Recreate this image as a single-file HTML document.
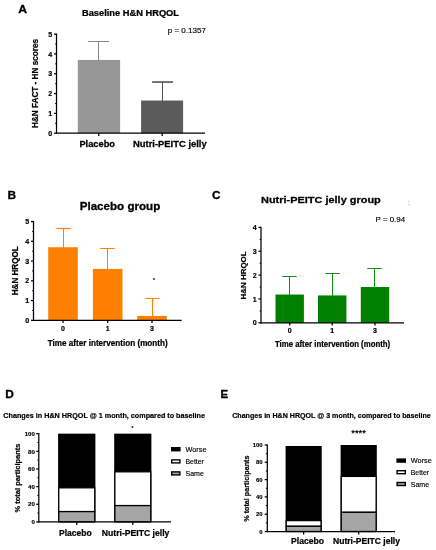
<!DOCTYPE html>
<html lang="en"><head><meta charset="utf-8"><title>H&amp;N HRQOL figure</title>
<style>
html,body{margin:0;padding:0;background:#fff;}
body{width:436px;height:550px;overflow:hidden;}
svg{display:block;font-family:"Liberation Sans",sans-serif;}
</style></head><body>
<svg width="436" height="550" viewBox="0 0 436 550">
<rect x="0" y="0" width="436" height="550" fill="#fff"/>

<g id="panelA">
<text x="18.25" y="12.9" font-size="11.6" font-weight="bold" text-anchor="start" fill="#000" stroke="#000" stroke-width="0.31" textLength="8.8" lengthAdjust="spacingAndGlyphs">A</text>
<text x="82" y="15.6" font-size="8.5" font-weight="bold" text-anchor="start" fill="#000" stroke="#000" stroke-width="0.23" textLength="97" lengthAdjust="spacingAndGlyphs">Baseline H&amp;N HRQOL</text>
<text x="167.7" y="32.8" font-size="8.0" font-weight="normal" text-anchor="start" fill="#000" stroke="#000" stroke-width="0.15" textLength="38.3" lengthAdjust="spacingAndGlyphs">p = 0.1357</text>
<rect x="77.80" y="59.94" width="42.30" height="73.26" fill="#979797"/>
<line x1="98.5" y1="41.5" x2="98.5" y2="60.93999999999998" stroke="#888888" stroke-width="1.0"/>
<line x1="88.0" y1="41.5" x2="109.0" y2="41.5" stroke="#888888" stroke-width="1.0"/>
<rect x="141.10" y="100.53" width="42.00" height="32.67" fill="#5b5b5b"/>
<line x1="162.5" y1="82.05" x2="162.5" y2="101.52999999999999" stroke="#525252" stroke-width="1.0"/>
<line x1="152.1" y1="82.05" x2="172.9" y2="82.05" stroke="#525252" stroke-width="1.6"/>
<line x1="56.5" y1="33.57499999999999" x2="56.5" y2="133.825" stroke="#000" stroke-width="1.25"/>
<line x1="54.0" y1="133.2" x2="56.5" y2="133.2" stroke="#000" stroke-width="1.25"/>
<text x="52.3" y="135.76" font-size="7.1" font-weight="bold" text-anchor="end" fill="#000" stroke="#000" stroke-width="0.19">0</text>
<line x1="54.0" y1="113.39999999999999" x2="56.5" y2="113.39999999999999" stroke="#000" stroke-width="1.25"/>
<text x="52.3" y="115.96" font-size="7.1" font-weight="bold" text-anchor="end" fill="#000" stroke="#000" stroke-width="0.19">1</text>
<line x1="54.0" y1="93.6" x2="56.5" y2="93.6" stroke="#000" stroke-width="1.25"/>
<text x="52.3" y="96.16" font-size="7.1" font-weight="bold" text-anchor="end" fill="#000" stroke="#000" stroke-width="0.19">2</text>
<line x1="54.0" y1="73.79999999999998" x2="56.5" y2="73.79999999999998" stroke="#000" stroke-width="1.25"/>
<text x="52.3" y="76.36" font-size="7.1" font-weight="bold" text-anchor="end" fill="#000" stroke="#000" stroke-width="0.19">3</text>
<line x1="54.0" y1="53.999999999999986" x2="56.5" y2="53.999999999999986" stroke="#000" stroke-width="1.25"/>
<text x="52.3" y="56.56" font-size="7.1" font-weight="bold" text-anchor="end" fill="#000" stroke="#000" stroke-width="0.19">4</text>
<line x1="54.0" y1="34.19999999999999" x2="56.5" y2="34.19999999999999" stroke="#000" stroke-width="1.25"/>
<text x="52.3" y="36.76" font-size="7.1" font-weight="bold" text-anchor="end" fill="#000" stroke="#000" stroke-width="0.19">5</text>
<line x1="55.125" y1="123.29999999999998" x2="56.5" y2="123.29999999999998" stroke="#000" stroke-width="1.0"/>
<line x1="55.125" y1="103.49999999999999" x2="56.5" y2="103.49999999999999" stroke="#000" stroke-width="1.0"/>
<line x1="55.125" y1="83.69999999999999" x2="56.5" y2="83.69999999999999" stroke="#000" stroke-width="1.0"/>
<line x1="55.125" y1="63.89999999999999" x2="56.5" y2="63.89999999999999" stroke="#000" stroke-width="1.0"/>
<line x1="55.125" y1="44.09999999999998" x2="56.5" y2="44.09999999999998" stroke="#000" stroke-width="1.0"/>
<line x1="56" y1="133.2" x2="205" y2="133.2" stroke="#000" stroke-width="1.25"/>
<line x1="98.8" y1="133.2" x2="98.8" y2="136.0" stroke="#000" stroke-width="1.25"/>
<line x1="162.2" y1="133.2" x2="162.2" y2="136.0" stroke="#000" stroke-width="1.25"/>
<text x="37.6" y="83.5" font-size="8.2" font-weight="bold" text-anchor="middle" fill="#000" stroke="#000" stroke-width="0.22" textLength="89" lengthAdjust="spacingAndGlyphs" transform="rotate(-90 37.6 83.5)">H&amp;N FACT - HN scores</text>
<text x="79.4" y="146.5" font-size="9.5" font-weight="bold" text-anchor="start" fill="#000" stroke="#000" stroke-width="0.26" textLength="35.6" lengthAdjust="spacingAndGlyphs">Placebo</text>
<text x="133" y="146.5" font-size="9.5" font-weight="bold" text-anchor="start" fill="#000" stroke="#000" stroke-width="0.26" textLength="73.7" lengthAdjust="spacingAndGlyphs">Nutri-PEITC jelly</text>
</g>
<g id="panelB">
<text x="7.4" y="198.5" font-size="11.6" font-weight="bold" text-anchor="start" fill="#000" stroke="#000" stroke-width="0.31" textLength="8.6" lengthAdjust="spacingAndGlyphs">B</text>
<text x="79.7" y="209.8" font-size="10.8" font-weight="bold" text-anchor="start" fill="#000" stroke="#000" stroke-width="0.29" textLength="80.6" lengthAdjust="spacingAndGlyphs">Placebo group</text>
<rect x="48.20" y="247.23" width="29.60" height="73.08" fill="#ff8000"/>
<line x1="63.5" y1="228.5" x2="63.5" y2="248.22500000000002" stroke="#ff8000" stroke-width="1.0"/>
<line x1="56.2" y1="228.5" x2="70.8" y2="228.5" stroke="#ff8000" stroke-width="1.0"/>
<rect x="92.90" y="268.95" width="29.60" height="51.35" fill="#ff8000"/>
<line x1="107.5" y1="248.5" x2="107.5" y2="269.95" stroke="#ff8000" stroke-width="1.0"/>
<line x1="100.2" y1="248.5" x2="114.8" y2="248.5" stroke="#ff8000" stroke-width="1.0"/>
<rect x="137.20" y="315.95" width="29.60" height="4.34" fill="#ff8000"/>
<line x1="152.5" y1="298.5" x2="152.5" y2="316.955" stroke="#ff8000" stroke-width="1.0"/>
<line x1="145.2" y1="298.5" x2="159.8" y2="298.5" stroke="#ff8000" stroke-width="1.0"/>
<line x1="33.5" y1="220.925" x2="33.5" y2="320.925" stroke="#000" stroke-width="1.25"/>
<line x1="31.0" y1="320.3" x2="33.5" y2="320.3" stroke="#000" stroke-width="1.25"/>
<text x="29.3" y="322.86" font-size="7.1" font-weight="bold" text-anchor="end" fill="#000" stroke="#000" stroke-width="0.19">0</text>
<line x1="31.0" y1="300.55" x2="33.5" y2="300.55" stroke="#000" stroke-width="1.25"/>
<text x="29.3" y="303.11" font-size="7.1" font-weight="bold" text-anchor="end" fill="#000" stroke="#000" stroke-width="0.19">1</text>
<line x1="31.0" y1="280.8" x2="33.5" y2="280.8" stroke="#000" stroke-width="1.25"/>
<text x="29.3" y="283.36" font-size="7.1" font-weight="bold" text-anchor="end" fill="#000" stroke="#000" stroke-width="0.19">2</text>
<line x1="31.0" y1="261.05" x2="33.5" y2="261.05" stroke="#000" stroke-width="1.25"/>
<text x="29.3" y="263.61" font-size="7.1" font-weight="bold" text-anchor="end" fill="#000" stroke="#000" stroke-width="0.19">3</text>
<line x1="31.0" y1="241.3" x2="33.5" y2="241.3" stroke="#000" stroke-width="1.25"/>
<text x="29.3" y="243.86" font-size="7.1" font-weight="bold" text-anchor="end" fill="#000" stroke="#000" stroke-width="0.19">4</text>
<line x1="31.0" y1="221.55" x2="33.5" y2="221.55" stroke="#000" stroke-width="1.25"/>
<text x="29.3" y="224.11" font-size="7.1" font-weight="bold" text-anchor="end" fill="#000" stroke="#000" stroke-width="0.19">5</text>
<line x1="32.125" y1="310.425" x2="33.5" y2="310.425" stroke="#000" stroke-width="1.0"/>
<line x1="32.125" y1="290.675" x2="33.5" y2="290.675" stroke="#000" stroke-width="1.0"/>
<line x1="32.125" y1="270.925" x2="33.5" y2="270.925" stroke="#000" stroke-width="1.0"/>
<line x1="32.125" y1="251.175" x2="33.5" y2="251.175" stroke="#000" stroke-width="1.0"/>
<line x1="32.125" y1="231.425" x2="33.5" y2="231.425" stroke="#000" stroke-width="1.0"/>
<line x1="33" y1="320.3" x2="181.7" y2="320.3" stroke="#000" stroke-width="1.25"/>
<line x1="63.0" y1="320.3" x2="63.0" y2="322.90000000000003" stroke="#000" stroke-width="1.25"/>
<text x="63.0" y="331.0" font-size="7" font-weight="bold" text-anchor="middle" fill="#000" stroke="#000" stroke-width="0.19">0</text>
<line x1="107.7" y1="320.3" x2="107.7" y2="322.90000000000003" stroke="#000" stroke-width="1.25"/>
<text x="107.7" y="331.0" font-size="7" font-weight="bold" text-anchor="middle" fill="#000" stroke="#000" stroke-width="0.19">1</text>
<line x1="152.0" y1="320.3" x2="152.0" y2="322.90000000000003" stroke="#000" stroke-width="1.25"/>
<text x="152.0" y="331.0" font-size="7" font-weight="bold" text-anchor="middle" fill="#000" stroke="#000" stroke-width="0.19">3</text>
<text x="47.7" y="345.5" font-size="8.5" font-weight="bold" text-anchor="start" fill="#000" stroke="#000" stroke-width="0.23" textLength="120" lengthAdjust="spacingAndGlyphs">Time after intervention (month)</text>
<text x="18.1" y="270.8" font-size="8.2" font-weight="bold" text-anchor="middle" fill="#000" stroke="#000" stroke-width="0.22" textLength="49" lengthAdjust="spacingAndGlyphs" transform="rotate(-90 18.1 270.8)">H&amp;N HRQOL</text>
<text x="154" y="281.6" font-size="6.2" font-weight="bold" text-anchor="middle" fill="#000">*</text>
</g>
<g id="panelC">
<text x="212.1" y="198.5" font-size="11.7" font-weight="bold" text-anchor="start" fill="#000" stroke="#000" stroke-width="0.32">C</text>
<text x="261.0" y="203.2" font-size="9.8" font-weight="bold" text-anchor="start" fill="#000" stroke="#000" stroke-width="0.26" textLength="119.8" lengthAdjust="spacingAndGlyphs">Nutri-PEITC jelly group</text>
<text x="375.6" y="222.2" font-size="7.6" font-weight="normal" text-anchor="start" fill="#000" stroke="#000" stroke-width="0.15" textLength="29.5" lengthAdjust="spacingAndGlyphs">P = 0.94</text>
<circle cx="408.8" cy="201.2" r="0.7" fill="#c4c4c4"/><circle cx="408.8" cy="204.2" r="0.7" fill="#c4c4c4"/>
<rect x="275.50" y="294.54" width="28.40" height="28.26" fill="#008000"/>
<line x1="289.5" y1="276.5" x2="289.5" y2="295.53775" stroke="#0f900f" stroke-width="1.0"/>
<line x1="282.3" y1="276.5" x2="296.7" y2="276.5" stroke="#0f900f" stroke-width="1.0"/>
<rect x="318.00" y="295.42" width="28.40" height="27.38" fill="#008000"/>
<line x1="332.5" y1="273.5" x2="332.5" y2="296.4202" stroke="#0f900f" stroke-width="1.0"/>
<line x1="325.3" y1="273.5" x2="339.7" y2="273.5" stroke="#0f900f" stroke-width="1.0"/>
<rect x="360.80" y="287.02" width="28.40" height="35.78" fill="#008000"/>
<line x1="374.5" y1="268.5" x2="374.5" y2="288.025" stroke="#0f900f" stroke-width="1.0"/>
<line x1="367.3" y1="268.5" x2="381.7" y2="268.5" stroke="#0f900f" stroke-width="1.0"/>
<line x1="261.0" y1="226.775" x2="261.0" y2="323.425" stroke="#000" stroke-width="1.25"/>
<line x1="258.5" y1="322.8" x2="261.0" y2="322.8" stroke="#000" stroke-width="1.25"/>
<text x="256.8" y="325.36" font-size="7.1" font-weight="bold" text-anchor="end" fill="#000" stroke="#000" stroke-width="0.19">0</text>
<line x1="258.5" y1="298.95" x2="261.0" y2="298.95" stroke="#000" stroke-width="1.25"/>
<text x="256.8" y="301.51" font-size="7.1" font-weight="bold" text-anchor="end" fill="#000" stroke="#000" stroke-width="0.19">1</text>
<line x1="258.5" y1="275.1" x2="261.0" y2="275.1" stroke="#000" stroke-width="1.25"/>
<text x="256.8" y="277.66" font-size="7.1" font-weight="bold" text-anchor="end" fill="#000" stroke="#000" stroke-width="0.19">2</text>
<line x1="258.5" y1="251.25" x2="261.0" y2="251.25" stroke="#000" stroke-width="1.25"/>
<text x="256.8" y="253.81" font-size="7.1" font-weight="bold" text-anchor="end" fill="#000" stroke="#000" stroke-width="0.19">3</text>
<line x1="258.5" y1="227.4" x2="261.0" y2="227.4" stroke="#000" stroke-width="1.25"/>
<text x="256.8" y="229.96" font-size="7.1" font-weight="bold" text-anchor="end" fill="#000" stroke="#000" stroke-width="0.19">4</text>
<line x1="259.625" y1="310.875" x2="261.0" y2="310.875" stroke="#000" stroke-width="1.0"/>
<line x1="259.625" y1="287.025" x2="261.0" y2="287.025" stroke="#000" stroke-width="1.0"/>
<line x1="259.625" y1="263.175" x2="261.0" y2="263.175" stroke="#000" stroke-width="1.0"/>
<line x1="259.625" y1="239.325" x2="261.0" y2="239.325" stroke="#000" stroke-width="1.0"/>
<line x1="260.7" y1="322.8" x2="404" y2="322.8" stroke="#000" stroke-width="1.25"/>
<line x1="289.7" y1="322.8" x2="289.7" y2="325.40000000000003" stroke="#000" stroke-width="1.25"/>
<text x="289.7" y="333.2" font-size="7" font-weight="bold" text-anchor="middle" fill="#000" stroke="#000" stroke-width="0.19">0</text>
<line x1="332.2" y1="322.8" x2="332.2" y2="325.40000000000003" stroke="#000" stroke-width="1.25"/>
<text x="332.2" y="333.2" font-size="7" font-weight="bold" text-anchor="middle" fill="#000" stroke="#000" stroke-width="0.19">1</text>
<line x1="375" y1="322.8" x2="375" y2="325.40000000000003" stroke="#000" stroke-width="1.25"/>
<text x="375" y="333.2" font-size="7" font-weight="bold" text-anchor="middle" fill="#000" stroke="#000" stroke-width="0.19">3</text>
<text x="274.9" y="347.2" font-size="8.2" font-weight="bold" text-anchor="start" fill="#000" stroke="#000" stroke-width="0.22" textLength="115.3" lengthAdjust="spacingAndGlyphs">Time after intervention (month)</text>
<text x="245.6" y="275.4" font-size="8.1" font-weight="bold" text-anchor="middle" fill="#000" stroke="#000" stroke-width="0.22" textLength="48" lengthAdjust="spacingAndGlyphs" transform="rotate(-90 245.6 275.4)">H&amp;N HRQOL</text>
</g>
<g id="panelD">
<text x="5.3" y="397.5" font-size="11.6" font-weight="bold" text-anchor="start" fill="#000" stroke="#000" stroke-width="0.31" textLength="8.6" lengthAdjust="spacingAndGlyphs">D</text>
<text x="3.3" y="417.55" font-size="6.9" font-weight="bold" text-anchor="start" fill="#000" stroke="#000" stroke-width="0.19" textLength="201.7" lengthAdjust="spacingAndGlyphs">Changes in H&amp;N HRQOL @ 1 month, compared to baseline</text>
<rect x="58.10" y="433.65" width="37.30" height="88.25" fill="#000"/>
<rect x="58.75" y="487.80" width="36.00" height="23.80" fill="#fff" stroke="#000" stroke-width="1.3"/>
<rect x="58.75" y="511.60" width="36.00" height="10.30" fill="#a6a6a6" stroke="#000" stroke-width="1.3"/>
<rect x="114.20" y="433.65" width="37.20" height="88.25" fill="#000"/>
<rect x="114.85" y="471.80" width="35.90" height="33.80" fill="#fff" stroke="#000" stroke-width="1.3"/>
<rect x="114.85" y="505.60" width="35.90" height="16.30" fill="#a6a6a6" stroke="#000" stroke-width="1.3"/>
<line x1="38.8" y1="433.025" x2="38.8" y2="522.525" stroke="#000" stroke-width="1.25"/>
<line x1="36.199999999999996" y1="521.9" x2="38.8" y2="521.9" stroke="#000" stroke-width="1.25"/>
<text x="34.9" y="524.1" font-size="6.1" font-weight="bold" text-anchor="end" fill="#000" stroke="#000" stroke-width="0.16">0</text>
<line x1="36.199999999999996" y1="504.25" x2="38.8" y2="504.25" stroke="#000" stroke-width="1.25"/>
<text x="34.9" y="506.45" font-size="6.1" font-weight="bold" text-anchor="end" fill="#000" stroke="#000" stroke-width="0.16">20</text>
<line x1="36.199999999999996" y1="486.59999999999997" x2="38.8" y2="486.59999999999997" stroke="#000" stroke-width="1.25"/>
<text x="34.9" y="488.8" font-size="6.1" font-weight="bold" text-anchor="end" fill="#000" stroke="#000" stroke-width="0.16">40</text>
<line x1="36.199999999999996" y1="468.95" x2="38.8" y2="468.95" stroke="#000" stroke-width="1.25"/>
<text x="34.9" y="471.15" font-size="6.1" font-weight="bold" text-anchor="end" fill="#000" stroke="#000" stroke-width="0.16">60</text>
<line x1="36.199999999999996" y1="451.29999999999995" x2="38.8" y2="451.29999999999995" stroke="#000" stroke-width="1.25"/>
<text x="34.9" y="453.5" font-size="6.1" font-weight="bold" text-anchor="end" fill="#000" stroke="#000" stroke-width="0.16">80</text>
<line x1="36.199999999999996" y1="433.65" x2="38.8" y2="433.65" stroke="#000" stroke-width="1.25"/>
<text x="34.9" y="435.85" font-size="6.1" font-weight="bold" text-anchor="end" fill="#000" stroke="#000" stroke-width="0.16">100</text>
<line x1="37.37" y1="513.0749999999999" x2="38.8" y2="513.0749999999999" stroke="#000" stroke-width="1.0"/>
<line x1="37.37" y1="495.42499999999995" x2="38.8" y2="495.42499999999995" stroke="#000" stroke-width="1.0"/>
<line x1="37.37" y1="477.775" x2="38.8" y2="477.775" stroke="#000" stroke-width="1.0"/>
<line x1="37.37" y1="460.125" x2="38.8" y2="460.125" stroke="#000" stroke-width="1.0"/>
<line x1="37.37" y1="442.47499999999997" x2="38.8" y2="442.47499999999997" stroke="#000" stroke-width="1.0"/>
<line x1="38.3" y1="521.9" x2="171" y2="521.9" stroke="#000" stroke-width="1.25"/>
<line x1="76.75" y1="521.9" x2="76.75" y2="524.9" stroke="#000" stroke-width="1.25"/>
<line x1="132.8" y1="521.9" x2="132.8" y2="524.9" stroke="#000" stroke-width="1.25"/>
<text x="132.5" y="429.6" font-size="6.2" font-weight="bold" text-anchor="middle" fill="#000">*</text>
<text x="59.0" y="535.9" font-size="8.5" font-weight="bold" text-anchor="start" fill="#000" stroke="#000" stroke-width="0.23" textLength="32.7" lengthAdjust="spacingAndGlyphs">Placebo</text>
<text x="101.8" y="535.9" font-size="8.5" font-weight="bold" text-anchor="start" fill="#000" stroke="#000" stroke-width="0.23" textLength="67.6" lengthAdjust="spacingAndGlyphs">Nutri-PEITC jelly</text>
<rect x="171.70" y="447.70" width="8.20" height="3.00" fill="#000" stroke="#000" stroke-width="1.4"/>
<text x="185.5" y="451.8" font-size="7.5" font-weight="normal" text-anchor="start" fill="#000" stroke="#000" stroke-width="0.15" textLength="21" lengthAdjust="spacingAndGlyphs">Worse</text>
<rect x="171.70" y="459.90" width="8.20" height="3.00" fill="#fff" stroke="#000" stroke-width="1.4"/>
<text x="185.5" y="464.0" font-size="7.5" font-weight="normal" text-anchor="start" fill="#000" stroke="#000" stroke-width="0.15" textLength="18.3" lengthAdjust="spacingAndGlyphs">Better</text>
<rect x="171.70" y="471.90" width="8.20" height="3.00" fill="#a8a8a8" stroke="#000" stroke-width="1.4"/>
<text x="185.5" y="476.0" font-size="7.5" font-weight="normal" text-anchor="start" fill="#000" stroke="#000" stroke-width="0.15" textLength="18.3" lengthAdjust="spacingAndGlyphs">Same</text>
<text x="20.2" y="478.0" font-size="7.5" font-weight="bold" text-anchor="middle" fill="#000" stroke="#000" stroke-width="0.2" textLength="68.8" lengthAdjust="spacingAndGlyphs" transform="rotate(-90 20.2 478.0)">% total participants</text>
</g>
<g id="panelE">
<text x="220.6" y="397.5" font-size="11.6" font-weight="bold" text-anchor="start" fill="#000" stroke="#000" stroke-width="0.31" textLength="7.6" lengthAdjust="spacingAndGlyphs">E</text>
<text x="232.2" y="417.8" font-size="6.8" font-weight="bold" text-anchor="start" fill="#000" stroke="#000" stroke-width="0.18" textLength="198.5" lengthAdjust="spacingAndGlyphs">Changes in H&amp;N HRQOL @ 3 month, compared to baseline</text>
<rect x="285.60" y="446.00" width="36.10" height="85.50" fill="#000"/>
<rect x="286.25" y="520.60" width="34.80" height="5.70" fill="#fff" stroke="#000" stroke-width="1.3"/>
<rect x="286.25" y="526.30" width="34.80" height="5.20" fill="#a6a6a6" stroke="#000" stroke-width="1.3"/>
<rect x="340.60" y="445.00" width="36.20" height="86.50" fill="#000"/>
<rect x="341.25" y="476.40" width="34.90" height="35.90" fill="#fff" stroke="#000" stroke-width="1.3"/>
<rect x="341.25" y="512.30" width="34.90" height="19.20" fill="#a6a6a6" stroke="#000" stroke-width="1.3"/>
<line x1="267.3" y1="444.375" x2="267.3" y2="532.125" stroke="#000" stroke-width="1.25"/>
<line x1="264.7" y1="531.5" x2="267.3" y2="531.5" stroke="#000" stroke-width="1.25"/>
<text x="262.6" y="533.62" font-size="5.9" font-weight="bold" text-anchor="end" fill="#000" stroke="#000" stroke-width="0.16">0</text>
<line x1="264.7" y1="514.2" x2="267.3" y2="514.2" stroke="#000" stroke-width="1.25"/>
<text x="262.6" y="516.32" font-size="5.9" font-weight="bold" text-anchor="end" fill="#000" stroke="#000" stroke-width="0.16">20</text>
<line x1="264.7" y1="496.9" x2="267.3" y2="496.9" stroke="#000" stroke-width="1.25"/>
<text x="262.6" y="499.02" font-size="5.9" font-weight="bold" text-anchor="end" fill="#000" stroke="#000" stroke-width="0.16">40</text>
<line x1="264.7" y1="479.6" x2="267.3" y2="479.6" stroke="#000" stroke-width="1.25"/>
<text x="262.6" y="481.72" font-size="5.9" font-weight="bold" text-anchor="end" fill="#000" stroke="#000" stroke-width="0.16">60</text>
<line x1="264.7" y1="462.3" x2="267.3" y2="462.3" stroke="#000" stroke-width="1.25"/>
<text x="262.6" y="464.42" font-size="5.9" font-weight="bold" text-anchor="end" fill="#000" stroke="#000" stroke-width="0.16">80</text>
<line x1="264.7" y1="445.0" x2="267.3" y2="445.0" stroke="#000" stroke-width="1.25"/>
<text x="262.6" y="447.12" font-size="5.9" font-weight="bold" text-anchor="end" fill="#000" stroke="#000" stroke-width="0.16">100</text>
<line x1="265.87" y1="522.85" x2="267.3" y2="522.85" stroke="#000" stroke-width="1.0"/>
<line x1="265.87" y1="505.55" x2="267.3" y2="505.55" stroke="#000" stroke-width="1.0"/>
<line x1="265.87" y1="488.25" x2="267.3" y2="488.25" stroke="#000" stroke-width="1.0"/>
<line x1="265.87" y1="470.95" x2="267.3" y2="470.95" stroke="#000" stroke-width="1.0"/>
<line x1="265.87" y1="453.65" x2="267.3" y2="453.65" stroke="#000" stroke-width="1.0"/>
<line x1="266.8" y1="531.5" x2="395" y2="531.5" stroke="#000" stroke-width="1.25"/>
<line x1="303.65" y1="531.5" x2="303.65" y2="534.5" stroke="#000" stroke-width="1.25"/>
<line x1="358.70000000000005" y1="531.5" x2="358.70000000000005" y2="534.5" stroke="#000" stroke-width="1.25"/>
<text x="358.6" y="435.9" font-size="9.4" font-weight="bold" text-anchor="middle" fill="#000">****</text>
<text x="291" y="543.6" font-size="8.4" font-weight="bold" text-anchor="start" fill="#000" stroke="#000" stroke-width="0.23" textLength="33" lengthAdjust="spacingAndGlyphs">Placebo</text>
<text x="333" y="543.6" font-size="8.4" font-weight="bold" text-anchor="start" fill="#000" stroke="#000" stroke-width="0.23" textLength="67" lengthAdjust="spacingAndGlyphs">Nutri-PEITC jelly</text>
<rect x="397.10" y="459.10" width="8.20" height="3.00" fill="#000" stroke="#000" stroke-width="1.4"/>
<text x="410.8" y="463.20000000000005" font-size="7.5" font-weight="normal" text-anchor="start" fill="#000" stroke="#000" stroke-width="0.15" textLength="21" lengthAdjust="spacingAndGlyphs">Worse</text>
<rect x="397.10" y="470.70" width="8.20" height="3.00" fill="#fff" stroke="#000" stroke-width="1.4"/>
<text x="410.8" y="474.8" font-size="7.5" font-weight="normal" text-anchor="start" fill="#000" stroke="#000" stroke-width="0.15" textLength="18.3" lengthAdjust="spacingAndGlyphs">Better</text>
<rect x="397.10" y="482.50" width="8.20" height="3.00" fill="#a8a8a8" stroke="#000" stroke-width="1.4"/>
<text x="410.8" y="486.6" font-size="7.5" font-weight="normal" text-anchor="start" fill="#000" stroke="#000" stroke-width="0.15" textLength="18.3" lengthAdjust="spacingAndGlyphs">Same</text>
<text x="248.6" y="488.6" font-size="7.3" font-weight="bold" text-anchor="middle" fill="#000" stroke="#000" stroke-width="0.2" textLength="66.2" lengthAdjust="spacingAndGlyphs" transform="rotate(-90 248.6 488.6)">% total participants</text>
</g>
</svg>
</body></html>
